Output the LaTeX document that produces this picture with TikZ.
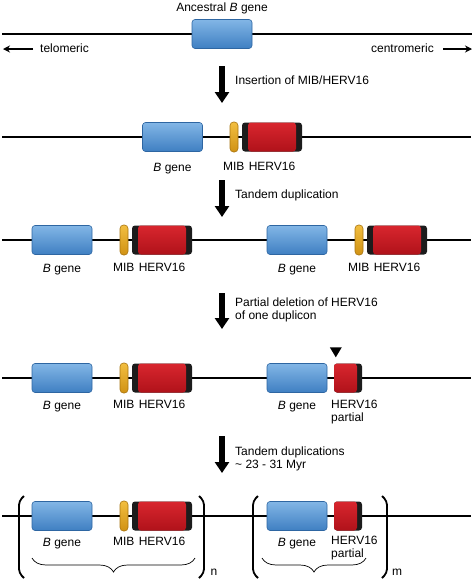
\documentclass[tikz,border=0pt]{standalone}
\usepackage{fontspec}
\setmainfont{Liberation Sans}
\usetikzlibrary{positioning,arrows.meta,decorations.pathreplacing}
\definecolor{bluetop}{HTML}{82B6E6}
\definecolor{bluebot}{HTML}{3F7FC2}
\definecolor{bluedraw}{HTML}{2E66A2}
\definecolor{redtop}{HTML}{D8262E}
\definecolor{redbot}{HTML}{B0121A}
\definecolor{hervend}{HTML}{1C1C1C}
\definecolor{mibtop}{HTML}{F2BE40}
\definecolor{mibbot}{HTML}{D09214}
\definecolor{mibdraw}{HTML}{A87410}
\begin{document}
\begin{tikzpicture}[x=1pt,y=-1pt,
  chrom/.style={line width=1.8pt},
  bgene/.style={rectangle,rounded corners=3pt,minimum width=60pt,minimum height=29pt,inner sep=0pt,
    draw=bluedraw,line width=0.6pt,top color=bluetop,bottom color=bluebot},
  mib/.style={rectangle,rounded corners=3.5pt,minimum width=8pt,minimum height=30pt,inner sep=0pt,
    draw=mibdraw,line width=0.6pt,top color=mibtop,bottom color=mibbot},
  herv/.style={rectangle,rounded corners=3pt,minimum width=60pt,minimum height=29pt,inner sep=0pt,fill=hervend,
    path picture={\shade[top color=redtop,bottom color=redbot]
      ([xshift=6pt]path picture bounding box.south west) rectangle ([xshift=-6pt]path picture bounding box.north east);}},
  hervpart/.style={rectangle,rounded corners=3pt,minimum width=28pt,minimum height=29pt,inner sep=0pt,fill=hervend,
    path picture={\shade[top color=redtop,bottom color=redbot]
      (path picture bounding box.south west) rectangle ([xshift=-5pt]path picture bounding box.north east);}},
  bigarrow/.style={line width=6.5pt,-{Triangle[width=14pt,length=11pt]}},
  sidearrow/.style={line width=1.4pt,-{Stealth[length=7pt,width=7pt]}},
  lbl/.style={inner sep=0pt,text height=9pt,text depth=3pt,font=\fontsize{12}{13}\selectfont},
  lbltwo/.style={inner sep=0pt,align=left,font=\fontsize{12}{13}\selectfont},
  bracket/.style={line width=1.8pt,rounded corners=4pt},
  brc/.style={decorate,decoration={brace,amplitude=14pt,mirror},line width=0.7pt}]
\useasboundingbox (0,0) rectangle (474,579);

% ancestral state
\coordinate (l1) at (2,34); \coordinate (r1) at (472,34);
\draw[chrom] (l1) -- (r1);
\node[bgene] (b1) at (222,34) {};
\node[lbl,above=5pt of b1] (anc) {Ancestral \emph{B} gene};
\node[lbl,anchor=west] (telo) at (40,49) {telomeric};
\node[lbl,anchor=east] (cen) at (434,49) {centromeric};
\coordinate (ta) at (3,49); \coordinate (tb) at (33,49);
\coordinate (ca) at (443,49); \coordinate (cb) at (472,49);
\draw[sidearrow] (tb) -- (ta);
\draw[sidearrow] (ca) -- (cb);

\coordinate (a1s) at (222,66); \coordinate (a1e) at (222,103);
\draw[bigarrow] (a1s) -- (a1e);
\node[lbl,anchor=west] (t1) at (235,81) {Insertion of MIB/HERV16};

% insertion
\coordinate (l2) at (2,137); \coordinate (r2) at (471,137);
\draw[chrom] (l2) -- (r2);
\node[bgene] (b2) at (172.5,137) {};
\node[mib] (m2) at (234,137) {};
\node[herv] (h2) at (272,137) {};
\node[lbl,below=10pt of b2] (b2l) {\emph{B} gene};
\node[lbl,below=10pt of h2] (h2l) {HERV16};
\node[lbl,left=4pt of h2l] (m2l) {MIB};

\coordinate (a2s) at (222,180); \coordinate (a2e) at (222,217);
\draw[bigarrow] (a2s) -- (a2e);
\node[lbl,anchor=west] (t2) at (235,195) {Tandem duplication};

% tandem duplication
\coordinate (l3) at (2,240); \coordinate (r3) at (471,240);
\draw[chrom] (l3) -- (r3);
\foreach \s/\dx in {a/0,b/235} {
  \node[bgene] (b3\s) at (62+\dx,240) {};
  \node[mib] (m3\s) at (124+\dx,240) {};
  \node[herv] (h3\s) at (162+\dx,240) {};
  \node[lbl,below=8pt of b3\s] (b3\s l) {\emph{B} gene};
  \node[lbl,below=8pt of h3\s] (h3\s l) {HERV16};
  \node[lbl,left=4pt of h3\s l] (m3\s l) {MIB};
}

\coordinate (a3s) at (222,293); \coordinate (a3e) at (222,329);
\draw[bigarrow] (a3s) -- (a3e);
\node[lbltwo,anchor=west] (t3) at (235,309.5) {Partial deletion of HERV16\\of one duplicon};

% partial deletion
\coordinate (l4) at (2,378); \coordinate (r4) at (471,378);
\draw[chrom] (l4) -- (r4);
\node[bgene] (b4a) at (62,378) {};
\node[mib] (m4a) at (124,378) {};
\node[herv] (h4a) at (162,378) {};
\node[lbl,below=7pt of b4a] (b4al) {\emph{B} gene};
\node[lbl,below=7pt of h4a] (h4al) {HERV16};
\node[lbl,left=4pt of h4al] (m4al) {MIB};
\node[bgene] (b4b) at (297,378) {};
\node[hervpart] (p4) at (348,378) {};
\node[lbl,below=7pt of b4b] (b4bl) {\emph{B} gene};
\node[lbltwo,anchor=north west] (p4l) at (331,399.5) {HERV16\\partial};
\fill ([shift={(-4,-16)}]p4.north west) -- ([shift={(8,-16)}]p4.north west)
  -- ([shift={(2,-6)}]p4.north west) -- cycle;

\coordinate (a4s) at (222,436); \coordinate (a4e) at (222,473);
\draw[bigarrow] (a4s) -- (a4e);
\node[lbltwo,anchor=west] (t4) at (235,459) {Tandem duplications\\\textasciitilde\ 23 - 31 Myr};

% repeated duplicons
\coordinate (l5) at (2,516); \coordinate (r5) at (471,516);
\draw[chrom] (l5) -- (r5);
\node[bgene] (b5a) at (62,516) {};
\node[mib] (m5a) at (124,516) {};
\node[herv] (h5a) at (162,516) {};
\node[lbl,below=6pt of b5a] (b5al) {\emph{B} gene};
\node[lbl,below=6pt of h5a] (h5al) {HERV16};
\node[lbl,left=4pt of h5al] (m5al) {MIB};
\node[bgene] (b5b) at (297,516) {};
\node[hervpart] (p5) at (348,516) {};
\node[lbl,below=6pt of b5b] (b5bl) {\emph{B} gene};
\node[lbltwo,anchor=north west] (p5l) at (331,535.5) {HERV16\\partial};

\draw[bracket] (24,496) -- (19,501) -- (19,573) -- (24,578);
\draw[bracket] (199,496) -- (204,501) -- (204,573) -- (199,578);
\draw[bracket] (258,496) -- (253,501) -- (253,573) -- (258,578);
\draw[bracket] (382,496) -- (387,501) -- (387,573) -- (382,578);
\draw[brc] (32,558) -- (195,558);
\draw[brc] (262,558) -- (366,558);
\node[lbl] (n) at (214,572) {n};
\node[lbl] (m) at (397,572) {m};
\end{tikzpicture}
\end{document}
